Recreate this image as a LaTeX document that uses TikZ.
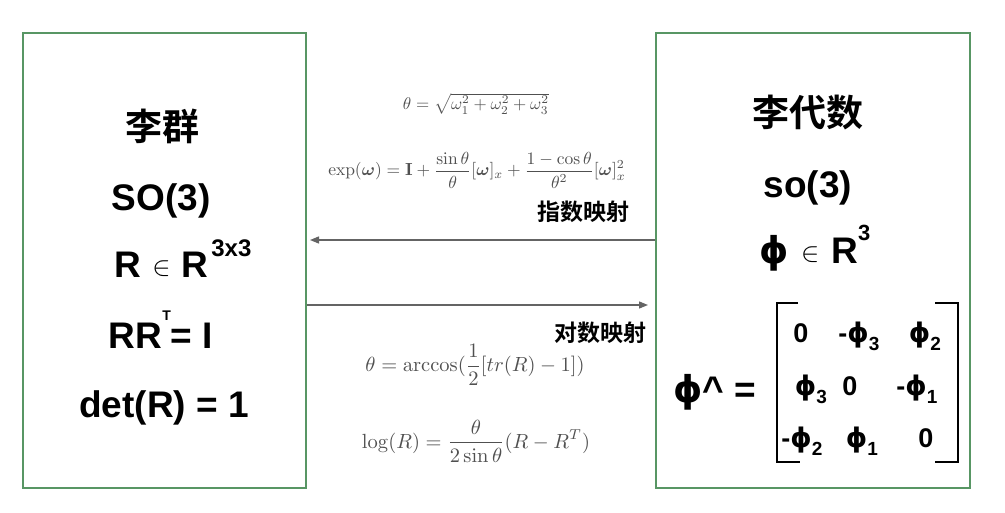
\documentclass[tikz,border=0pt]{standalone}
\usepackage{amsmath,amssymb}
\usepackage{graphicx}
\usepackage[no-math]{fontspec}
\setmainfont{Liberation Sans}
\newfontfamily\cjk{Noto Sans CJK SC}[BoldFont={Noto Sans CJK SC Bold}]
\newfontfamily\phifont{DejaVu Sans}
\usetikzlibrary{arrows.meta}
\definecolor{boxgreen}{RGB}{88,150,100}
\definecolor{arrgray}{RGB}{100,100,100}
\definecolor{fgray}{RGB}{80,80,80}
\tikzset{
  panel/.style={draw=boxgreen,line width=1.6pt},
  arr/.style={draw=arrgray,line width=1.3pt,-{Triangle[length=9pt,width=7pt]}},
  big/.style={inner sep=0pt,font=\fontsize{37}{40}\selectfont\bfseries},
  cn/.style={inner sep=0pt,font=\fontsize{37}{40}\selectfont\cjk\bfseries},
  cnsmall/.style={inner sep=0pt,font=\fontsize{23}{25}\selectfont\cjk\bfseries},
  ent/.style={inner sep=0pt,anchor=base,font=\fontsize{27}{30}\selectfont\bfseries},
  fml/.style={inner sep=0pt,text=fgray},
  brk/.style={line width=2.6pt}
}
\newcommand{\ph}{{\phifont\bfseries ϕ}}
\newcommand{\sub}[1]{\raisebox{-0.3em}{\fontsize{19}{20}\selectfont #1}}
\begin{document}
\begin{tikzpicture}[x=1pt,y=-1pt]
\useasboundingbox (0,0) rectangle (1005,512);
\fill[white] (0,0) rectangle (1005,512);
% boxes
\node[panel,minimum width=283pt,minimum height=455pt,inner sep=0pt] (lbox) at (164.5,260.5) {};
\node[panel,minimum width=314pt,minimum height=455pt,inner sep=0pt] (rbox) at (813,260.5) {};
% left texts
\node[cn] (lq) at (162,126) {李群};
\node[big,anchor=base] (so3) at (161,210) {SO(3)};
\node[big,anchor=base] (rin) at (183,277) {R\hspace{11pt}\raisebox{0.05em}{\mdseries\scalebox{1.1}{$\in$}}\hspace{11pt}R\hspace{3pt}\raisebox{0.55em}{\fontsize{24}{26}\selectfont 3x3}};
\node[big,anchor=base] (rrt) at (161,348) {RR\raisebox{0.75em}{\fontsize{14}{16}\selectfont T}= I};
\node[big,anchor=base] (det) at (164,417) {det(R) = 1};
% right texts
\node[cn] (ld) at (808,113) {李代数};
\node[big,anchor=base] (so3s) at (808,197) {so(3)};
\node[big,anchor=base] (phin) at (815,263) {\ph\hspace{12pt}\raisebox{0.05em}{\mdseries\scalebox{1.1}{$\in$}}\hspace{12pt}R\raisebox{0.62em}{\fontsize{22}{24}\selectfont 3}};
\node[big,anchor=base] (phihat) at (715,402) {\ph\textasciicircum{} =};
% matrix brackets
\coordinate (bl1) at (798,303); \coordinate (bl2) at (777,303);
\coordinate (bl3) at (777,462); \coordinate (bl4) at (800,462);
\coordinate (br1) at (935,303); \coordinate (br2) at (958,303);
\coordinate (br3) at (958,462); \coordinate (br4) at (935,462);
\draw[brk] (bl1) -- (bl2) -- (bl3) -- (bl4);
\draw[brk] (br1) -- (br2) -- (br3) -- (br4);
% entries
\node[ent] (m11) at (801,342) {0};
\node[ent] (m12) at (859,342) {-\ph\sub{3}};
\node[ent] (m13) at (925,342) {\ph\sub{2}};
\node[ent] (m21) at (811,395) {\ph\sub{3}};
\node[ent] (m22) at (850,395) {0};
\node[ent] (m23) at (917,395) {-\ph\sub{1}};
\node[ent] (m31) at (802,447) {-\ph\sub{2}};
\node[ent] (m32) at (862,447) {\ph\sub{1}};
\node[ent] (m33) at (926,447) {0};
% formulas
\node[fml] (f1) at (476,104) {\scalebox{1.7}{$\theta=\sqrt{\omega_1^2+\omega_2^2+\omega_3^2}$}};
\node[fml] (f2) at (477,170) {\scalebox{1.75}{$\displaystyle \exp(\boldsymbol{\omega})=\mathbf{I}+\frac{\sin\theta}{\theta}[\boldsymbol{\omega}]_x+\frac{1-\cos\theta}{\theta^2}[\boldsymbol{\omega}]_x^2$}};
\node[fml] (f3) at (475,365) {\scalebox{2.05}{$\displaystyle \theta=\arccos(\frac{1}{2}[tr(R)-1])$}};
\node[fml] (f4) at (476,441) {\scalebox{2.05}{$\displaystyle \log(R)=\frac{\theta}{2\sin\theta}(R-R^T)$}};
\node[cnsmall] (exl) at (583,212) {指数映射};
\node[cnsmall] (lgl) at (600,333) {对数映射};
% arrows
\coordinate (a1s) at (655,240); \coordinate (a1e) at (310,240);
\coordinate (a2s) at (307,305); \coordinate (a2e) at (648,305);
\draw[arr] (a1s) -- (a1e);
\draw[arr] (a2s) -- (a2e);
\end{tikzpicture}
\end{document}
